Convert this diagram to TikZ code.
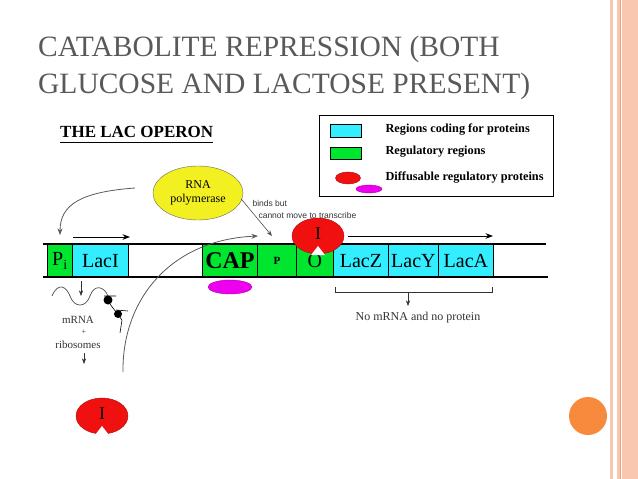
\documentclass[tikz,border=0pt]{standalone}
\usepackage{fontspec}
\setmainfont{Liberation Serif}
\newfontfamily\sansf{Liberation Sans}
\usetikzlibrary{shapes.geometric,arrows.meta,calc}
\definecolor{salmon}{HTML}{F9C6B0}
\definecolor{salmondk}{HTML}{F0A080}
\definecolor{dot}{HTML}{F78A3C}
\definecolor{cyanbox}{HTML}{33EEFF}
\definecolor{greenbox}{HTML}{00E62E}
\definecolor{mag}{HTML}{EE00EE}
\definecolor{repr}{HTML}{F01010}
\definecolor{yel}{HTML}{F2F020}
\begin{document}
\begin{tikzpicture}[x=1pt,y=-1pt,>=Stealth]
  \tikzset{
    gene/.style={draw=black, line width=0.9pt, minimum height=33pt, inner sep=0pt, anchor=north west, font=\fontsize{20}{20}\selectfont},
    coding/.style={gene, fill=cyanbox},
    reg/.style={gene, fill=greenbox},
    legtxt/.style={anchor=west, font=\fontsize{12.3}{13}\selectfont\bfseries},
    small/.style={font=\fontsize{11}{12}\selectfont, text=black!80},
    repressor/.style={ellipse, fill=repr, draw=repr!70!black, minimum width=52pt, minimum height=36pt, inner sep=0pt, font=\fontsize{18}{18}\selectfont},
    notch/.style={fill=white},
    curve/.style={->, draw=black!65, line width=0.8pt}
  }
  \useasboundingbox (0,0) rectangle (638,479);
  % slide decoration
  \fill[salmon] (610,0) rectangle (613,479);
  \fill[salmon] (617,0) rectangle (620,479);
  \fill[salmondk] (620,0) rectangle (621,479);
  \fill[salmon] (622,0) rectangle (638,479);
  \node[circle, fill=dot, minimum size=38pt, inner sep=0pt] (dotc) at (588,416) {};
  % title
  \node[anchor=north west, align=left, text=black!65, inner sep=0pt,
        font=\fontsize{29.5}{37}\selectfont] (title) at (38,36)
        {CATABOLITE REPRESSION (BOTH\\GLUCOSE AND LACTOSE PRESENT)};
  \node[anchor=base west, inner sep=0pt, font=\fontsize{17}{17}\selectfont\bfseries] (lac) at (60,137) {THE LAC OPERON};
  \draw[line width=1pt] ($(lac.south west)+(0,5)$) -- ($(lac.south east)+(0,5)$);
  % legend
  \node[draw, line width=1.2pt, minimum width=234pt, minimum height=81pt, anchor=north west] (leg) at (319,115) {};
  \node[draw, line width=0.9pt, fill=cyanbox, minimum width=31pt, minimum height=13pt, inner sep=0pt] (lc) at (346,130.5) {};
  \node[draw, line width=0.9pt, fill=greenbox, minimum width=31pt, minimum height=12pt, inner sep=0pt] (lg) at (346,153) {};
  \node[ellipse, fill=repr, draw=repr!70!black, minimum width=25pt, minimum height=12pt, inner sep=0pt] (lr) at (348,178) {};
  \node[ellipse, fill=mag, draw=mag!70!black, minimum width=26pt, minimum height=8pt, inner sep=0pt] (lm) at (369,189) {};
  \node[legtxt] at (382,130) {Regions coding for proteins};
  \node[legtxt] at (382,152) {Regulatory regions};
  \node[legtxt] at (382,178) {Diffusable regulatory proteins};
  % DNA
  \coordinate (t1) at (43,244); \coordinate (t2) at (546,244);
  \coordinate (b1) at (43,277); \coordinate (b2) at (548,277);
  \node[reg, minimum width=25pt] (pi) at (47,244) {P\textsubscript{i}};
  \node[coding, minimum width=56pt] (laci) at (72,244) {LacI};
  \node[reg, minimum width=55pt, font=\fontsize{24}{24}\selectfont\bfseries] (cap) at (202,244) {CAP};
  \node[reg, minimum width=39pt, font=\fontsize{11}{11}\selectfont\bfseries] (p) at (257,244) {P};
  \node[reg, minimum width=37pt] (o) at (296,244) {\raisebox{-7pt}{O}};
  \node[coding, minimum width=55pt] (lacz) at (333,244) {LacZ};
  \node[coding, minimum width=50pt] (lacy) at (388,244) {LacY};
  \node[coding, minimum width=55pt] (laca) at (438,244) {LacA};
  \draw[line width=1.2pt] (t1) -- (t2);
  \draw[line width=1.2pt] (b1) -- (b2);
  % transcription direction arrows
  \coordinate (a1) at (73,237); \coordinate (a2) at (130,237);
  \draw[->, line width=1pt] (a1) -- (a2);
  \coordinate (a3) at (348,236); \coordinate (a4) at (493,236);
  \draw[->, line width=1pt] (a3) -- (a4);
  % CAP site protein
  \node[ellipse, fill=mag, draw=mag!70!black, minimum width=44pt, minimum height=14pt, inner sep=0pt] (capp) at (230,287) {};
  % repressor on operator
  \node[repressor, anchor=center] (rep) at (318,236) {\raisebox{5pt}{I}};
  \fill[notch] (311,255) -- (325,255) -- (318,246) -- cycle;
  % RNA polymerase
  \node[ellipse, fill=yel, draw=black!60, minimum width=90pt, minimum height=54pt, inner sep=0pt,
        align=center, font=\fontsize{12}{14}\selectfont] (pol) at (198,193) {RNA\\polymerase};
  \node[small, anchor=west, font=\sansf\fontsize{8.5}{9}\selectfont] (bb) at (249,203) {binds but};
  \node[small, anchor=west, font=\sansf\fontsize{8.5}{9}\selectfont] (cm) at (255,215) {cannot move to transcribe};
  \coordinate (pt) at (272,236);
  \draw[->, black!70, line width=0.6pt] ($(pol.east)+(-2,6)$) -- (pt);
  % curved arrow to Pi
  \coordinate (c0) at (135,188); \coordinate (c1) at (60,235);
  \draw[curve] (c0) .. controls (80,192) and (60,205) .. (c1);
  % mRNA and ribosomes
  \coordinate (d1) at (81,281); \coordinate (d2) at (81,296);
  \draw[->, black!80, line width=0.6pt] (d1) -- (d2);
  \draw[black!70, line width=0.7pt] (52,296) .. controls (58,282) and (66,286) .. (70,296)
        .. controls (74,308) and (86,308) .. (90,296) .. controls (94,284) and (104,286) .. (108,296);
  \fill[black] (108,300) circle (4.5pt);
  \fill[black] (118,314) circle (4pt);
  \draw[black, line width=0.6pt] (104,296) -- (116,296) (110,304) -- (122,320) (116,310) -- (128,311) (122,320) -- (120,333);
  \node[small] (mrna) at (78,320) {mRNA};
  \node[small, font=\fontsize{8}{8}\selectfont] (plus) at (84,332) {+};
  \node[small] (ribo) at (78,345) {ribosomes};
  \coordinate (d3) at (84,353); \coordinate (d4) at (84,364);
  \draw[->, black!80, line width=0.6pt] (d3) -- (d4);
  \node[repressor] (rep2) at (102,416) {\raisebox{5pt}{I}};
  \fill[notch] (95,435) -- (109,435) -- (102,426) -- cycle;
  % long curved arrow from free repressor to operator
  \coordinate (e0) at (123,372); \coordinate (e1) at (258,236);
  \draw[curve] (e0) .. controls (122,300) and (170,240) .. (e1);
  % bracket
  \coordinate (k1) at (335,287); \coordinate (k2) at (492,287);
  \draw[black!80, line width=0.6pt] (k1) -- ++(0,5) -- ($(k2)+(0,5)$) -- (k2);
  \coordinate (k3) at (408,292); \coordinate (k4) at (408,306);
  \draw[->, black!80, line width=0.6pt] (k3) -- (k4);
  \node[small, font=\fontsize{12}{12}\selectfont] (nom) at (418,318) {No mRNA and no protein};
\end{tikzpicture}
\end{document}
